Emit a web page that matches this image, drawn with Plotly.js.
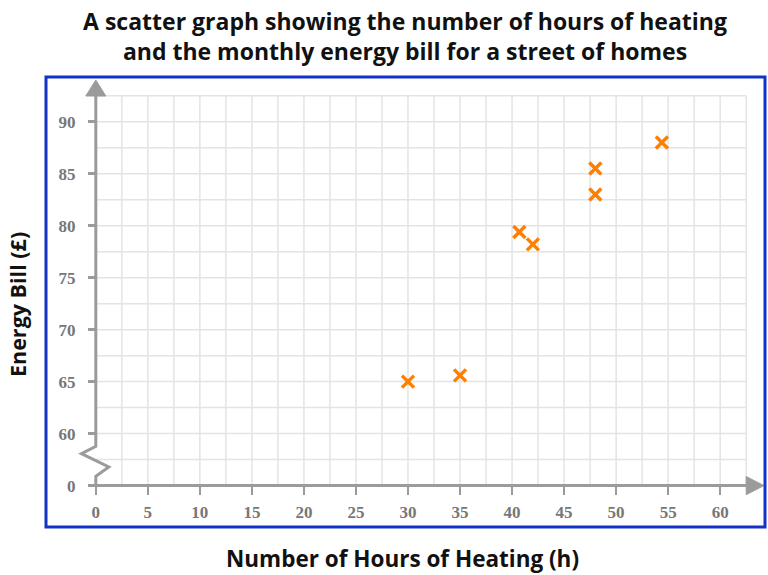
<!DOCTYPE html>
<html>
<head>
<meta charset="utf-8">
<script src="https://cdn.plot.ly/plotly-3.0.1.min.js"></script>
<style>
  html, body { margin: 0; padding: 0; background: #fff; }
  #chart { width: 768px; height: 575px; }
</style>
</head>
<body>
<div id="chart"></div>
<script>
// --- data ---
const hours = [30, 35, 40.7, 42, 48, 48, 54.4];
const bill = [65, 65.6, 79.4, 78.2, 83, 85.5, 88];

// tick labels (the y axis is broken: the "0" sits where 55 would be)
const xTickVals = [0, 5, 10, 15, 20, 25, 30, 35, 40, 45, 50, 55, 60];
const xTickText = ['0', '5', '10', '15', '20', '25', '30', '35', '40', '45', '50', '55', '60'];
const yTickVals = [55, 60, 65, 70, 75, 80, 85, 90];
const yTickText = ['0', '60', '65', '70', '75', '80', '85', '90'];

const titleText = 'A scatter graph showing the number of hours of heating<br>and the monthly energy bill for a street of homes';
const xTitle = 'Number of Hours of Heating (h)';
const yTitle = 'Energy Bill (£)';

// --- layout geometry ---
const W = 768, H = 575;
const M = { l: 75, r: 1, t: 78, b: 79 };
const xRange = [-2, 64.5];
const yRange = [54, 94.2];
const plotW = W - M.l - M.r;
const plotH = H - M.t - M.b;

// pixel -> paper helpers for the things that live outside the axes
function px(x) { return (x - M.l) / plotW; }
function py(y) { return 1 - (y - M.t) / plotH; }

const axisCol = '#9b9b9b';
const gridCol = '#e4e4e4';
const tickFont = { family: 'Liberation Serif, serif', size: 17, color: '#777', weight: 'bold' };
const titleFont = { family: 'Open Sans, sans-serif', size: 23, color: '#111', weight: 'bold' };
const labelFont = { family: 'Open Sans, sans-serif', size: 22.5, color: '#111', weight: 'bold' };
const yLabelFont = { family: 'Open Sans, sans-serif', size: 21.5, color: '#111', weight: 'bold' };

const shapes = [];

// grid every 2.5 units
for (let gx = 2.5; gx <= 62.5; gx += 2.5) {
    shapes.push({ type: 'line', xref: 'x', yref: 'y', x0: gx, x1: gx, y0: 55, y1: 92.5,
        line: { color: gridCol, width: 1.5 }, layer: 'below' });
}
for (let gy = 57.5; gy <= 92.5; gy += 2.5) {
    shapes.push({ type: 'line', xref: 'x', yref: 'y', x0: 0, x1: 62.5, y0: gy, y1: gy,
        line: { color: gridCol, width: 1.5 }, layer: 'below' });
}

// x axis line + arrow
shapes.push({ type: 'line', xref: 'x', yref: 'y', x0: 0, x1: 62.6, y0: 55, y1: 55,
    line: { color: axisCol, width: 3 } });
shapes.push({ type: 'path', xref: 'x', yref: 'y',
    path: 'M 62.5,54.13 L 64.2,55 L 62.5,55.87 Z',
    fillcolor: axisCol, line: { color: axisCol, width: 1 } });

// y axis line with the zigzag break + arrow
shapes.push({ type: 'path', xref: 'x', yref: 'y',
    path: 'M 0,55 L 0,55.9 L 1.25,56.8 L -1.38,58.07 L 0,58.78 L 0,92.6',
    line: { color: axisCol, width: 3 } });
shapes.push({ type: 'path', xref: 'x', yref: 'y',
    path: 'M -0.96,92.47 L 0,94.0 L 0.96,92.47 Z',
    fillcolor: axisCol, line: { color: axisCol, width: 1 } });

// blue frame
shapes.push({ type: 'rect', xref: 'paper', yref: 'paper',
    x0: px(46), x1: px(765), y0: py(527), y1: py(77),
    line: { color: '#1433c6', width: 3 } });

const trace = {
    x: hours,
    y: bill,
    type: 'scatter',
    mode: 'markers',
    marker: {
        symbol: 'x-thin',
        size: 12,
        color: '#ff8000',
        line: { color: '#ff8000', width: 3.5 }
    },
    cliponaxis: false,
    hoverinfo: 'x+y'
};

const layout = {
    width: W,
    height: H,
    margin: M,
    paper_bgcolor: '#fff',
    plot_bgcolor: '#fff',
    showlegend: false,
    title: {
        text: titleText,
        font: titleFont,
        xref: 'container',
        yref: 'container',
        x: 405 / W,
        y: 1 - 30 / H,
        xanchor: 'center',
        yanchor: 'middle'
    },
    xaxis: {
        range: xRange,
        anchor: 'free',
        position: (55 - yRange[0]) / (yRange[1] - yRange[0]),
        tickmode: 'array',
        tickvals: xTickVals,
        ticktext: xTickText,
        ticks: 'outside',
        ticklen: 8,
        tickwidth: 2.5,
        tickcolor: axisCol,
        ticklabelstandoff: 3,
        tickfont: tickFont,
        showgrid: false,
        zeroline: false,
        showline: false,
        automargin: false,
        fixedrange: true
    },
    yaxis: {
        range: yRange,
        anchor: 'free',
        position: (0 - xRange[0]) / (xRange[1] - xRange[0]),
        tickmode: 'array',
        tickvals: yTickVals,
        ticktext: yTickText,
        ticks: 'outside',
        ticklen: 8,
        tickwidth: 2.5,
        tickcolor: axisCol,
        ticklabelstandoff: 9,
        tickfont: tickFont,
        showgrid: false,
        zeroline: false,
        showline: false,
        automargin: false,
        fixedrange: true
    },
    annotations: [
        { text: xTitle, xref: 'paper', yref: 'paper', x: px(402), y: py(558),
          xanchor: 'center', yanchor: 'middle', showarrow: false, font: labelFont },
        { text: yTitle, xref: 'paper', yref: 'paper', x: px(17), y: py(305),
          xanchor: 'center', yanchor: 'middle', showarrow: false, textangle: -90, font: yLabelFont }
    ],
    shapes: shapes
};

Plotly.newPlot('chart', [trace], layout, { displayModeBar: false, staticPlot: true });
</script>
</body>
</html>
